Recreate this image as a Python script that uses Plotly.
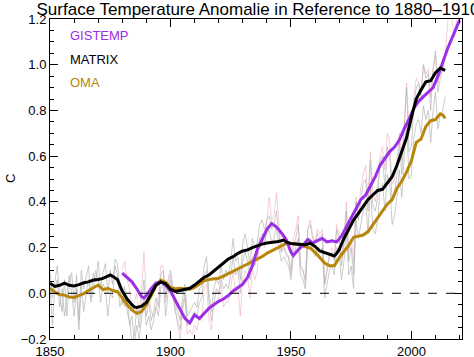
import plotly.graph_objects as go

# ---------------- data ----------------
gist_years = [1880, 1882, 1884, 1886, 1888, 1889, 1890, 1892, 1894, 1896, 1898, 1900, 1902, 1904,
              1906, 1908, 1910, 1912, 1914, 1916, 1918, 1920, 1922, 1924, 1926, 1928, 1930, 1932,
              1934, 1936, 1938, 1940, 1942, 1944, 1946, 1948, 1950, 1951, 1953, 1955, 1957, 1959,
              1961, 1963, 1965, 1967, 1969, 1971, 1973, 1975, 1977, 1979, 1981, 1983, 1985, 1987,
              1989, 1991, 1993, 1995, 1997, 1999, 2001, 2003, 2005, 2007, 2009, 2011, 2013, 2015,
              2017, 2019, 2020]
gist_vals = [0.088, 0.07, 0.05, 0.02, -0.015, -0.02, -0.01, 0.02, 0.045, 0.05, 0.035, 0.01, -0.03, -0.07,
             -0.11, -0.13, -0.095, -0.11, -0.085, -0.065, -0.05, -0.035, -0.025, -0.01, 0.01, 0.025, 0.04, 0.07,
             0.12, 0.19, 0.235, 0.28, 0.305, 0.29, 0.265, 0.235, 0.18, 0.165, 0.19, 0.21, 0.235, 0.22,
             0.23, 0.24, 0.225, 0.23, 0.225, 0.25, 0.29, 0.33, 0.37, 0.41, 0.43, 0.47, 0.51, 0.56,
             0.59, 0.62, 0.64, 0.67, 0.72, 0.76, 0.81, 0.84, 0.86, 0.88, 0.90, 0.95, 1.01, 1.07,
             1.12, 1.17, 1.195]

matrix_years = [1850, 1852, 1854, 1856, 1858, 1860, 1862, 1864, 1866, 1868, 1870, 1872, 1874, 1875, 1876,
                1878, 1880, 1882, 1884, 1885, 1886, 1888, 1890, 1892, 1894, 1896, 1898, 1900, 1902, 1904,
                1906, 1908, 1910, 1912, 1914, 1916, 1918, 1920, 1922, 1924, 1926, 1928, 1930, 1932, 1934,
                1936, 1938, 1940, 1942, 1944, 1946, 1947, 1948, 1950, 1952, 1954, 1956, 1958, 1960, 1962,
                1964, 1966, 1968, 1969, 1970, 1972, 1974, 1976, 1978, 1980, 1982, 1984, 1986, 1988, 1990,
                1992, 1994, 1996, 1998, 2000, 2002, 2004, 2006, 2008, 2010, 2012, 2013, 2014]
matrix_vals = [0.044, 0.03, 0.035, 0.044, 0.035, 0.032, 0.038, 0.046, 0.05, 0.058, 0.06, 0.065, 0.075, 0.08, 0.074,
               0.06, 0.01, -0.025, -0.05, -0.06, -0.062, -0.056, -0.04, -0.005, 0.035, 0.05, 0.042, 0.018, 0.008, 0.012,
               0.018, 0.022, 0.036, 0.055, 0.07, 0.08, 0.098, 0.115, 0.13, 0.15, 0.16, 0.175, 0.185, 0.19, 0.2,
               0.208, 0.215, 0.22, 0.222, 0.225, 0.23, 0.233, 0.225, 0.218, 0.216, 0.214, 0.212, 0.219, 0.205, 0.185,
               0.178, 0.172, 0.163, 0.175, 0.19, 0.24, 0.28, 0.32, 0.35, 0.38, 0.41, 0.43, 0.45, 0.455, 0.48,
               0.51, 0.56, 0.62, 0.68, 0.77, 0.85, 0.89, 0.925, 0.93, 0.965, 0.985, 0.98, 0.975]

oma_years = [1850, 1852, 1854, 1856, 1858, 1860, 1862, 1864, 1866, 1868, 1870, 1872, 1874, 1876, 1878,
             1880, 1882, 1884, 1886, 1888, 1890, 1892, 1894, 1896, 1898, 1900, 1902, 1904, 1906, 1908,
             1910, 1912, 1914, 1916, 1918, 1920, 1922, 1924, 1926, 1928, 1930, 1932, 1934, 1936, 1938,
             1940, 1942, 1944, 1946, 1948, 1950, 1952, 1954, 1956, 1958, 1960, 1962, 1964, 1966, 1968,
             1970, 1972, 1974, 1976, 1978, 1980, 1982, 1984, 1986, 1988, 1990, 1992, 1994, 1996, 1998,
             2000, 2002, 2004, 2006, 2008, 2010, 2012, 2013, 2014]
oma_vals = [0.022, 0.005, -0.005, -0.008, -0.016, -0.018, -0.01, -0.002, 0.012, 0.025, 0.036, 0.016, 0.022, 0.012, 0.006,
            -0.02, -0.05, -0.073, -0.088, -0.08, -0.05, -0.01, 0.035, 0.058, 0.048, 0.025, 0.02, 0.022, 0.02, 0.018,
            0.026, 0.04, 0.055, 0.06, 0.062, 0.066, 0.075, 0.085, 0.095, 0.108, 0.118, 0.128, 0.14, 0.15, 0.16,
            0.175, 0.185, 0.198, 0.208, 0.218, 0.218, 0.216, 0.21, 0.205, 0.198, 0.18, 0.155, 0.132, 0.12, 0.12,
            0.155, 0.18, 0.21, 0.245, 0.25, 0.255, 0.27, 0.30, 0.33, 0.36, 0.39, 0.41, 0.46, 0.49, 0.53,
            0.58, 0.66, 0.675, 0.73, 0.755, 0.76, 0.785, 0.78, 0.765]

# annual background series
gray_a_start = 1850
gray_a = [0.10, -0.02, 0.05, 0.12, 0.00, -0.08, 0.06, -0.10, 0.04, 0.09,
          -0.04, 0.08, -0.12, 0.10, 0.02, 0.07, 0.12, -0.02, 0.09, 0.05,
          0.14, 0.02, 0.09, 0.13, 0.00, 0.10, 0.04, 0.15, 0.13, 0.02,
          -0.05, 0.03, -0.08, -0.12, -0.22, -0.18, -0.06, -0.15, -0.04, 0.06,
          -0.10, -0.04, -0.12, -0.08, -0.02, -0.06, 0.08, 0.10, -0.02, 0.06,
          0.10, 0.02, -0.04, -0.08, -0.12, -0.02, 0.04, -0.10, -0.08, -0.06,
          -0.04, -0.06, 0.02, 0.03, 0.12, 0.16, 0.00, -0.08, 0.02, 0.06,
          0.04, 0.12, 0.06, 0.10, 0.08, 0.14, 0.24, 0.14, 0.16, 0.06,
          0.22, 0.26, 0.20, 0.12, 0.24, 0.20, 0.22, 0.30, 0.32, 0.28,
          0.32, 0.34, 0.28, 0.30, 0.36, 0.26, 0.18, 0.20, 0.18, 0.16,
          0.10, 0.20, 0.24, 0.30, 0.12, 0.10, 0.06, 0.28, 0.30, 0.24,
          0.22, 0.26, 0.24, 0.26, 0.04, 0.10, 0.16, 0.18, 0.14, 0.28,
          0.24, 0.12, 0.22, 0.36, 0.14, 0.20, 0.08, 0.40, 0.32, 0.40,
          0.48, 0.50, 0.36, 0.58, 0.38, 0.36, 0.42, 0.58, 0.60, 0.46,
          0.64, 0.60, 0.40, 0.44, 0.52, 0.66, 0.52, 0.72, 0.90, 0.62,
          0.64, 0.82, 0.90, 0.92, 0.86, 1.00, 0.94, 0.96, 0.80, 0.98,
          1.06, 0.88, 0.94, 0.98, 1.04]

gray_b_start = 1850
gray_b = [0.04, -0.14, 0.02, 0.06, -0.06, 0.02, -0.10, -0.02, 0.08, 0.00,
          -0.10, 0.02, -0.16, 0.04, -0.08, 0.00, 0.06, -0.04, 0.02, 0.10,
          0.06, -0.04, 0.04, 0.02, -0.10, 0.00, -0.02, 0.12, 0.08, -0.06,
          -0.02, -0.06, -0.02, -0.14, -0.10, -0.22, -0.14, -0.20, -0.10, -0.02,
          -0.14, -0.10, -0.16, -0.12, -0.06, -0.10, 0.02, 0.04, -0.10, 0.00,
          0.06, -0.02, -0.08, -0.12, -0.16, -0.06, 0.00, -0.14, -0.12, -0.10,
          -0.08, -0.10, -0.04, -0.02, 0.08, 0.10, -0.04, -0.12, -0.04, 0.02,
          0.00, 0.06, 0.02, 0.04, 0.02, 0.08, 0.16, 0.08, 0.10, 0.00,
          0.14, 0.18, 0.14, 0.06, 0.16, 0.12, 0.16, 0.24, 0.26, 0.22,
          0.26, 0.28, 0.22, 0.24, 0.30, 0.20, 0.14, 0.16, 0.14, 0.12,
          0.06, 0.16, 0.20, 0.24, 0.08, 0.06, 0.02, 0.22, 0.24, 0.18,
          0.16, 0.20, 0.18, 0.20, -0.02, 0.04, 0.10, 0.12, 0.08, 0.20,
          0.18, 0.06, 0.14, 0.28, 0.08, 0.12, 0.02, 0.32, 0.24, 0.30,
          0.36, 0.40, 0.26, 0.46, 0.28, 0.26, 0.32, 0.46, 0.48, 0.36,
          0.52, 0.48, 0.30, 0.34, 0.42, 0.54, 0.42, 0.60, 0.76, 0.50,
          0.52, 0.68, 0.74, 0.76, 0.70, 0.82, 0.76, 0.80, 0.66, 0.80,
          0.88, 0.72, 0.78, 0.80, 0.86]

pink_start = 1880
pink = [0.10, 0.14, 0.06, 0.02, -0.06, -0.04, 0.00, -0.10, 0.02, 0.18,
        -0.02, 0.00, -0.08, -0.10, -0.06, -0.02, 0.12, 0.12, -0.04, 0.04,
        0.08, 0.00, -0.06, -0.14, -0.20, -0.08, -0.02, -0.18, -0.16, -0.18,
        -0.14, -0.16, -0.10, -0.12, 0.02, 0.04, -0.12, -0.16, -0.04, -0.04,
        -0.02, 0.04, -0.06, -0.04, -0.04, 0.02, 0.10, 0.00, 0.02, -0.10,
        0.06, 0.10, 0.08, -0.02, 0.10, 0.06, 0.10, 0.24, 0.24, 0.20,
        0.32, 0.42, 0.32, 0.34, 0.44, 0.32, 0.18, 0.22, 0.16, 0.16,
        0.08, 0.24, 0.28, 0.34, 0.12, 0.10, 0.04, 0.28, 0.32, 0.26,
        0.22, 0.28, 0.26, 0.28, 0.04, 0.10, 0.18, 0.20, 0.16, 0.30,
        0.26, 0.16, 0.24, 0.40, 0.18, 0.24, 0.14, 0.42, 0.34, 0.46,
        0.52, 0.56, 0.42, 0.62, 0.44, 0.40, 0.46, 0.60, 0.64, 0.54,
        0.70, 0.66, 0.48, 0.50, 0.58, 0.70, 0.58, 0.74, 0.92, 0.72,
        0.72, 0.86, 0.94, 0.92, 0.88, 1.00, 0.96, 0.98, 0.86, 0.98,
        1.04, 0.92, 0.96, 1.00, 1.04, 1.18, 1.28, 1.18, 1.12, 1.22,
        1.24]

series_names = ["GISTEMP", "MATRIX", "OMA"]
series_colors = ["#9B2EE6", "#000000", "#B8860B"]

x_range = [1850, 2021]
y_range = [-0.2, 1.2]
title_text = "Surface Temperature Anomalie in Reference to 1880\u20131910"
y_title = "C"

# ---------------- figure ----------------
FONT = "Liberation Sans, Arial, Helvetica, sans-serif"
fig = go.Figure()

def yrs(start, vals):
    return list(range(start, start + len(vals)))

fig.add_trace(go.Scatter(x=yrs(pink_start, pink), y=pink, mode="lines",
                         line=dict(color="rgba(240,160,175,0.5)", width=1), hoverinfo="skip"))
fig.add_trace(go.Scatter(x=yrs(gray_a_start, gray_a), y=gray_a, mode="lines",
                         line=dict(color="rgba(175,175,175,0.65)", width=1), hoverinfo="skip"))
fig.add_trace(go.Scatter(x=yrs(gray_b_start, gray_b), y=gray_b, mode="lines",
                         line=dict(color="rgba(175,175,175,0.65)", width=1), hoverinfo="skip"))

fig.add_shape(type="line", xref="paper", x0=0, x1=1, yref="y", y0=0, y1=0,
              line=dict(color="black", width=1, dash="dash"))

fig.add_trace(go.Scatter(x=oma_years, y=oma_vals, mode="lines", name=series_names[2],
                         line=dict(color=series_colors[2], width=3)))
fig.add_trace(go.Scatter(x=gist_years, y=gist_vals, mode="lines", name=series_names[0],
                         line=dict(color=series_colors[0], width=3)))
fig.add_trace(go.Scatter(x=matrix_years, y=matrix_vals, mode="lines", name=series_names[1],
                         line=dict(color=series_colors[1], width=3)))

# text legend
for i, (nm, col) in enumerate(zip(series_names, series_colors)):
    fig.add_annotation(xref="paper", yref="paper", x=(68 - 50) / 412, y=1 - (36 + 23.5 * i - 19) / 320,
                       xanchor="left", yanchor="middle", text=nm, showarrow=False,
                       font=dict(family=FONT, size=13, color=col))

fig.add_annotation(xref="paper", yref="paper", x=(10 - 50) / 412, y=0.5, text=y_title,
                   textangle=-90, showarrow=False, xanchor="center", yanchor="middle",
                   font=dict(family=FONT, size=13, color="black"))

fig.update_layout(
    width=474, height=357,
    margin=dict(l=50, r=12, t=19, b=18),
    paper_bgcolor="white", plot_bgcolor="white",
    showlegend=False,
    font=dict(family=FONT, size=13, color="black"),
    title=dict(text=title_text, x=258 / 474, xanchor="center", xref="container",
               y=1 - 9 / 357, yanchor="middle", yref="container",
               font=dict(family=FONT, size=17, color="black")),
    xaxis=dict(range=x_range, tick0=1850, dtick=50, ticks="inside", ticklen=8, tickcolor="black",
               showline=True, linecolor="black", linewidth=1, mirror="ticks", showgrid=False,
               zeroline=False, automargin=False,
               minor=dict(dtick=10, tick0=1850, ticks="inside", ticklen=4, tickcolor="black", showgrid=False)),
    yaxis=dict(range=y_range, tick0=0, dtick=0.2, tickformat=".1f", ticks="inside", ticklen=8,
               tickcolor="black", showline=True, linecolor="black", linewidth=1, mirror="ticks",
               showgrid=False, zeroline=False, automargin=False,
               minor=dict(dtick=0.05, tick0=0, ticks="inside", ticklen=4, tickcolor="black", showgrid=False)),
)

fig.write_html("out.html", config={"displayModeBar": False},
               post_script="document.body.style.margin='0px';document.body.style.overflow='hidden';")
